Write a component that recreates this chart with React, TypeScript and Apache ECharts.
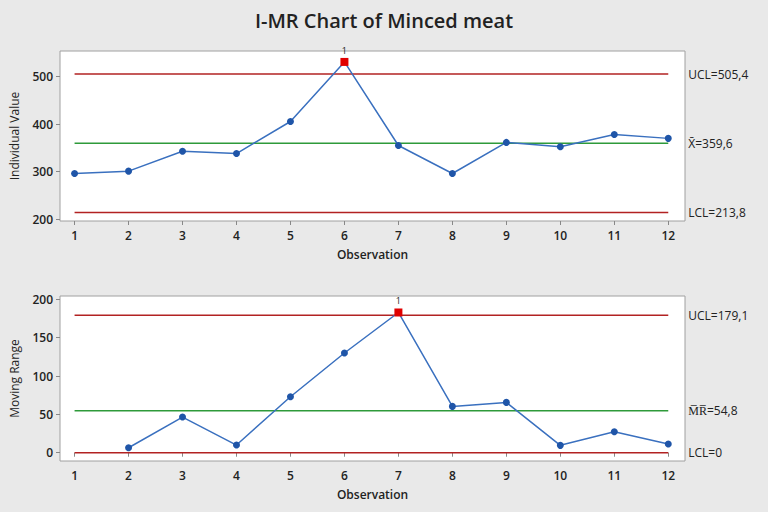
import React, { useEffect, useRef } from "react";
import * as echarts from "echarts";

const observations = [1, 2, 3, 4, 5, 6, 7, 8, 9, 10, 11, 12];
const individualValues = [296, 301, 343, 338, 405.5, 531, 355, 296, 361.5, 352.5, 378, 370];
const movingRanges: (number | null)[] = [null, 6.5, 46.5, 10, 73, 130, 182.8, 60.4, 65.6, 9.6, 27.3, 11.3];
const iLimits = { ucl: 505.4, center: 359.6, lcl: 213.8 };
const mrLimits = { ucl: 179.1, center: 54.8, lcl: 0 };
const iLabels = { ucl: "UCL=505,4", center: "X\u0304=359,6", lcl: "LCL=213,8" };
const mrLabels = { ucl: "UCL=179,1", center: "M\u0305R\u0305=54,8", lcl: "LCL=0" };
const iOutOfControl = [6];
const mrOutOfControl = [7];
const iYTicks = [200, 300, 400, 500];
const mrYTicks = [0, 50, 100, 150, 200];

const FONT = "Open Sans";
const TXT = "#222";

export default function App() {
  const ref = useRef<HTMLDivElement>(null);
  useEffect(() => {
    if (!ref.current) return;
    const chart = echarts.init(ref.current, null, { renderer: "svg" });

    const xAxisBase = (gridIndex: number) => ({
      type: "value" as const,
      gridIndex,
      min: 0.73,
      max: 12.31,
      name: "Observation",
      nameLocation: "middle" as const,
      nameGap: 27,
      nameTextStyle: { fontFamily: FONT, fontSize: 12, fontWeight: 600, color: TXT },
      axisLine: { show: false },
      axisTick: { show: true, length: 4, lineStyle: { color: "#888" }, customValues: observations },
      axisLabel: { fontFamily: FONT, fontSize: 12, fontWeight: 600, color: TXT, margin: 8, customValues: observations },
      splitLine: { show: false },
    });

    const yAxisBase = (gridIndex: number, min: number, max: number, ticks: number[], name: string) => ({
      type: "value" as const,
      gridIndex,
      min,
      max,
      name,
      nameLocation: "middle" as const,
      nameGap: 40,
      nameTextStyle: { fontFamily: FONT, fontSize: 12, color: TXT },
      axisLine: { show: false },
      axisTick: { show: true, length: 4, lineStyle: { color: "#888" }, customValues: ticks },
      axisLabel: { fontFamily: FONT, fontSize: 12, fontWeight: 600, color: TXT, margin: 7, customValues: ticks },
      splitLine: { show: false },
    });

    const limitSeries = (idx: number, value: number, color: string, label: string) => ({
      type: "line" as const,
      xAxisIndex: idx,
      yAxisIndex: idx,
      data: [
        [observations[0], value],
        [observations[observations.length - 1], value],
      ],
      symbol: "none",
      lineStyle: { color, width: 1.5 },
      endLabel: {
        show: true,
        distance: 20,
        formatter: label,
        fontFamily: FONT,
        fontSize: 12,
        color: TXT,
      },
      silent: true,
      z: 1,
    });

    const dataSeries = (idx: number, values: (number | null)[], ooc: number[]) => ({
      type: "line" as const,
      xAxisIndex: idx,
      yAxisIndex: idx,
      data: observations
        .map((o, i) => ({ o, v: values[i] }))
        .filter((d) => d.v !== null)
        .map((d) =>
          ooc.includes(d.o)
            ? {
                value: [d.o, d.v],
                symbol: "rect",
                symbolSize: 8,
                itemStyle: { color: "#e00000" },
                label: {
                  show: true,
                  position: "top" as const,
                  distance: 3,
                  formatter: "1",
                  fontFamily: FONT,
                  fontSize: 9,
                  color: "#222",
                },
              }
            : { value: [d.o, d.v] }
        ),
      symbol: "circle",
      symbolSize: 7,
      showSymbol: true,
      itemStyle: { color: "#1f55a8" },
      lineStyle: { color: "#3a70bf", width: 1.5 },
      z: 3,
    });

    chart.setOption({
      animation: false,
      backgroundColor: "#e9e9e9",
      title: {
        text: "I-MR Chart of Minced meat",
        left: "center",
        top: 5,
        textStyle: { fontFamily: FONT, fontSize: 20, fontWeight: 600, color: "#222" },
      },
      grid: [
        { left: 59, right: 83, top: 51, height: 170, show: true, backgroundColor: "#fff", borderColor: "#a0a0a0", borderWidth: 1 },
        { left: 59, right: 83, top: 296, height: 165, show: true, backgroundColor: "#fff", borderColor: "#a0a0a0", borderWidth: 1 },
      ],
      xAxis: [xAxisBase(0), xAxisBase(1)],
      yAxis: [
        yAxisBase(0, 196, 554, iYTicks, "Individual Value"),
        yAxisBase(1, -10.8, 204.3, mrYTicks, "Moving Range"),
      ],
      series: [
        limitSeries(0, iLimits.ucl, "#b22222", iLabels.ucl),
        limitSeries(0, iLimits.center, "#2e9a3a", iLabels.center),
        limitSeries(0, iLimits.lcl, "#b22222", iLabels.lcl),
        dataSeries(0, individualValues, iOutOfControl),
        limitSeries(1, mrLimits.ucl, "#b22222", mrLabels.ucl),
        limitSeries(1, mrLimits.center, "#2e9a3a", mrLabels.center),
        limitSeries(1, mrLimits.lcl, "#b22222", mrLabels.lcl),
        dataSeries(1, movingRanges, mrOutOfControl),
      ],
    });
    return () => chart.dispose();
  }, []);
  return <div ref={ref} style={{ width: 768, height: 512, position: "absolute", left: 0, top: 0 }} />;
}
